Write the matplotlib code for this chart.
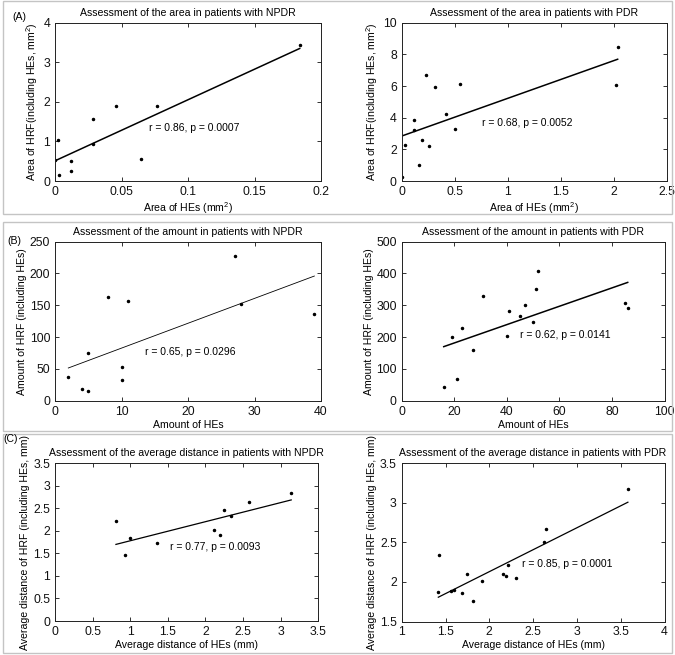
import matplotlib
matplotlib.use("Agg")
import matplotlib.pyplot as plt
from matplotlib.patches import Rectangle
from matplotlib.ticker import FuncFormatter
import numpy as np

plt.rcParams['font.family'] = ['Liberation Sans', 'DejaVu Sans']
plt.rcParams['mathtext.fontset'] = 'custom'
plt.rcParams['mathtext.rm'] = 'Liberation Sans'
plt.rcParams['mathtext.it'] = 'Liberation Sans:italic'
plt.rcParams['mathtext.bf'] = 'Liberation Sans:bold'

# ---------------- data ----------------
# (A) area
area_npdr_x = [0, 0.0025, 0.003, 0.012, 0.012, 0.0288, 0.0288, 0.0456, 0.0645, 0.0764, 0.184]
area_npdr_y = [0.53, 1.04, 0.14, 0.50, 0.26, 1.57, 0.93, 1.89, 0.55, 1.89, 3.43]
area_npdr_fit = [15.43, 0.51]          # slope, intercept
area_npdr_fit_range = [0, 0.184]

area_pdr_x = [0.006, 0.035, 0.112, 0.112, 0.159, 0.187, 0.225, 0.254, 0.317, 0.422, 0.50, 0.549, 2.02, 2.035]
area_pdr_y = [0.25, 2.27, 3.86, 3.22, 0.99, 2.61, 6.67, 2.23, 5.94, 4.21, 3.26, 6.13, 6.04, 8.48]
area_pdr_fit = [2.384, 2.84]
area_pdr_fit_range = [0, 2.035]

# (B) amount
amount_npdr_x = [2, 4, 5, 5, 8, 10, 10, 11, 27, 28, 39]
amount_npdr_y = [38, 19, 75, 15, 163, 53, 32, 156, 227, 152, 136]
amount_npdr_fit = [3.908, 43.6]
amount_npdr_fit_range = [2, 39]

amount_pdr_x = [16, 19, 21, 23, 27, 31, 40, 41, 45, 47, 50, 51, 52, 85, 86]
amount_pdr_y = [42, 201, 67, 228, 160, 329, 202, 283, 267, 300, 247, 351, 407, 308, 292]
amount_pdr_fit = [2.886, 123.8]
amount_pdr_fit_range = [16, 86]

# (C) average distance
dist_npdr_x = [0.81, 0.93, 1.0, 1.36, 2.12, 2.19, 2.25, 2.335, 2.58, 3.14]
dist_npdr_y = [2.22, 1.46, 1.85, 1.74, 2.02, 1.90, 2.47, 2.34, 2.64, 2.84]
dist_npdr_fit = [0.4236, 1.357]
dist_npdr_fit_range = [0.81, 3.14]

dist_pdr_x = [1.418, 1.43, 1.567, 1.60, 1.693, 1.751, 1.812, 1.916, 2.161, 2.188, 2.215, 2.307, 2.625, 2.651, 3.582]
dist_pdr_y = [1.87, 2.34, 1.887, 1.895, 1.857, 2.105, 1.765, 2.008, 2.105, 2.071, 2.21, 2.046, 2.50, 2.668, 3.18]
dist_pdr_fit = [0.555, 1.020]
dist_pdr_fit_range = [1.418, 3.582]

# texts
titles = ["Assessment of the area in patients with NPDR",
          "Assessment of the area in patients with PDR",
          "Assessment of the amount in patients with NPDR",
          "Assessment of the amount in patients with PDR",
          "Assessment of the average distance in patients with NPDR",
          "Assessment of the average distance in patients with PDR"]
xlabels = ["Area of HEs (mm$^2$)", "Area of HEs (mm$^2$)",
           "Amount of HEs", "Amount of HEs",
           "Average distance of HEs (mm)", "Average distance of HEs (mm)"]
ylabels = ["Area of HRF(including HEs, mm$^2$)", "Area of HRF(including HEs, mm$^2$)",
           "Amount of HRF (including HEs)", "Amount of HRF (including HEs)",
           "Average distance of HRF (including HEs, mm)", "Average distance of HRF (including HEs, mm)"]
stats = ["r = 0.86, p = 0.0007", "r = 0.68, p = 0.0052",
         "r = 0.65, p = 0.0296", "r = 0.62, p = 0.0141",
         "r = 0.77, p = 0.0093", "r = 0.85, p = 0.0001"]
xticks_list = [[0, 0.05, 0.1, 0.15, 0.2], [0, 0.5, 1, 1.5, 2, 2.5],
               [0, 10, 20, 30, 40], [0, 20, 40, 60, 80, 100],
               [0, 0.5, 1, 1.5, 2, 2.5, 3, 3.5], [1, 1.5, 2, 2.5, 3, 3.5, 4]]
yticks_list = [[0, 1, 2, 3, 4], [0, 2, 4, 6, 8, 10],
               [0, 50, 100, 150, 200, 250], [0, 100, 200, 300, 400, 500],
               [0, 0.5, 1, 1.5, 2, 2.5, 3, 3.5], [1.5, 2, 2.5, 3, 3.5]]
panel_letters = ["(A)", "(B)", "(C)"]

# ---------------- layout (pixels) ----------------
W, H = 675, 655
fig = plt.figure(figsize=(W / 100, H / 100), dpi=100)

def rect(l, t, r, b):
    return [l / W, 1 - b / H, (r - l) / W, (b - t) / H]

axes_px = [(55, 22.7, 321, 181), (401.7, 22.7, 667, 181),
           (55, 241.7, 321, 400.7), (401.7, 241.7, 664.5, 400.7),
           (55, 463.3, 318.3, 621), (401.7, 463.3, 664.5, 621.5)]
stat_pos = [(0.0707, 1.33), (0.753, 3.64), (13.6, 76), (45.0, 206.5), (1.523, 1.65), (2.372, 2.231)]
fit_lw = [1.1, 1.1, 0.6, 1.1, 0.9, 0.9]

series = [(area_npdr_x, area_npdr_y, area_npdr_fit, area_npdr_fit_range),
          (area_pdr_x, area_pdr_y, area_pdr_fit, area_pdr_fit_range),
          (amount_npdr_x, amount_npdr_y, amount_npdr_fit, amount_npdr_fit_range),
          (amount_pdr_x, amount_pdr_y, amount_pdr_fit, amount_pdr_fit_range),
          (dist_npdr_x, dist_npdr_y, dist_npdr_fit, dist_npdr_fit_range),
          (dist_pdr_x, dist_pdr_y, dist_pdr_fit, dist_pdr_fit_range)]

# panel boxes
boxes_px = [(2.5, 1.5, 672, 214), (2.5, 221.5, 672, 430.5), (2.5, 434, 672, 652.5)]
for (l, t, r, b) in boxes_px:
    fig.patches.append(Rectangle((l / W, 1 - b / H), (r - l) / W, (b - t) / H,
                                 transform=fig.transFigure, fill=False,
                                 edgecolor='#c4c4c4', linewidth=1.0, zorder=0))

fmt = FuncFormatter(lambda v, p: ('%g' % v))
FS_TICK = 8.8
FS_TEXT = 7.6

for i, (px, (xs, ys, fit, frange)) in enumerate(zip(axes_px, series)):
    ax = fig.add_axes(rect(*px))
    ax.plot(xs, ys, linestyle='none', marker='o', markersize=1.5, color='black')
    fx = np.array(frange)
    ax.plot(fx, fit[0] * fx + fit[1], color='black', linewidth=fit_lw[i])
    xt, yt = xticks_list[i], yticks_list[i]
    ax.set_xlim(xt[0], xt[-1])
    ax.set_ylim(yt[0], yt[-1])
    ax.set_xticks(xt)
    ax.set_yticks(yt)
    ax.xaxis.set_major_formatter(fmt)
    ax.yaxis.set_major_formatter(fmt)
    ax.tick_params(direction='in', top=True, right=True, length=3, width=0.6,
                   labelsize=FS_TICK, pad=3.5, colors='#111111')
    for s in ax.spines.values():
        s.set_linewidth(0.7)
        s.set_color('#222222')
    ax.set_title(titles[i], fontsize=FS_TEXT, pad=5)
    ax.set_xlabel(xlabels[i], fontsize=FS_TEXT, labelpad=1.5)
    ax.set_ylabel(ylabels[i], fontsize=FS_TEXT, labelpad=2)
    ax.text(stat_pos[i][0], stat_pos[i][1], stats[i], fontsize=7.5,
            ha='left', va='center')

letter_px = [(12.5, 17), (7, 241), (3, 438.5)]
for lab, (x, y) in zip(panel_letters, letter_px):
    fig.text(x / W, 1 - y / H, lab, fontsize=FS_TEXT, ha='left', va='center')

fig.savefig("out.png", dpi=100)
